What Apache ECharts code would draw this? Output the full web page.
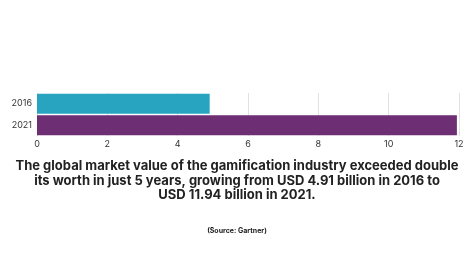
<!DOCTYPE html>
<html><head><meta charset="utf-8">
<script src="https://cdn.jsdelivr.net/npm/echarts@6/dist/echarts.min.js"></script>
<style>html,body{margin:0;padding:0;background:#fff}#c{width:474px;height:266px}</style>
</head><body><div id="c"></div>
<script>
const categories = ['2016', '2021'];
const values = [4.91, 11.94];
const barColors = ['#28a4c1', '#6d2e74'];
const xTicks = [0, 2, 4, 6, 8, 10, 12];
const caption = 'The global market value of the gamification industry exceeded double\nits worth in just 5 years, growing from USD 4.91 billion in 2016 to\nUSD 11.94 billion in 2021.';
const source = '(Source: Gartner)';

const chart = echarts.init(document.getElementById('c'), null, {renderer: 'canvas'});
chart.setOption({
  animation: false,
  backgroundColor: '#fff',
  grid: {left: 37, right: 15, top: 93, bottom: 130, containLabel: false},
  xAxis: {
    type: 'value', min: xTicks[0], max: xTicks[xTicks.length - 1], interval: 2,
    axisLine: {show: false}, axisTick: {show: false},
    splitLine: {show: true, lineStyle: {color: '#e2e2e2', width: 1}},
    axisLabel: {color: '#333', fontSize: 9, fontFamily: 'Inter', margin: 4}
  },
  yAxis: {
    type: 'category', data: categories, inverse: true,
    axisLine: {show: false}, axisTick: {show: false},
    axisLabel: {color: '#333', fontSize: 9, fontFamily: 'Inter', margin: 5}
  },
  series: [{
    type: 'bar', barCategoryGap: '8%',
    data: values.map((v, i) => ({value: v, itemStyle: {color: barColors[i]}}))
  }],
  graphic: [
    {type: 'text', left: 'center', top: 159,
     style: {text: caption, fill: '#222', font: 'bold 13px Inter', textAlign: 'center', lineHeight: 14.5}},
    {type: 'text', left: 'center', top: 227,
     style: {text: source, fill: '#222', font: 'bold 7px Inter', textAlign: 'center'}}
  ]
});
</script></body></html>
